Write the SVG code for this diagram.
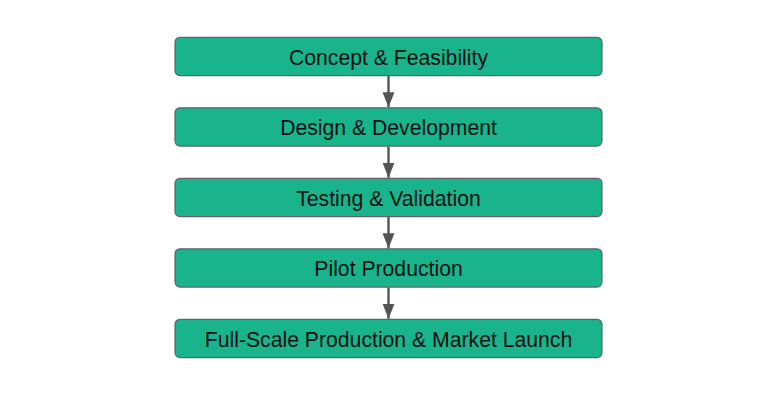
<svg xmlns="http://www.w3.org/2000/svg" width="768" height="401" viewBox="0 0 768 401">
<defs>
<style>
.box{fill:#19b48c;stroke:#5f6368;stroke-width:1.2}
.lbl{font-family:"Liberation Sans",Arial,sans-serif;font-size:21.2px;fill:#111;text-anchor:middle;dominant-baseline:central}
.edge{stroke:#555;stroke-width:2.4;fill:none}
</style>
<marker id="ah" markerWidth="15" markerHeight="12" refX="15" refY="6" orient="auto" markerUnits="userSpaceOnUse">
<path d="M0,0 L15,6 L0,12 Z" fill="#555"/>
</marker>
</defs>
<rect width="768" height="401" fill="#fff"/>
<g id="connectors">
<line class="edge" x1="388.5" y1="76" x2="388.5" y2="107.3" marker-end="url(#ah)"/>
<line class="edge" x1="388.5" y1="146.5" x2="388.5" y2="177.8" marker-end="url(#ah)"/>
<line class="edge" x1="388.5" y1="217" x2="388.5" y2="248.3" marker-end="url(#ah)"/>
<line class="edge" x1="388.5" y1="287.5" x2="388.5" y2="318.8" marker-end="url(#ah)"/>
</g>
<g id="n1"><rect class="box" x="175" y="37.3" width="427" height="38.3" rx="5"/><text class="lbl" x="388.5" y="57">Concept &amp; Feasibility</text></g>
<g id="n2"><rect class="box" x="175" y="107.8" width="427" height="38.3" rx="5"/><text class="lbl" x="388.5" y="127.5">Design &amp; Development</text></g>
<g id="n3"><rect class="box" x="175" y="178.3" width="427" height="38.3" rx="5"/><text class="lbl" x="388.5" y="198">Testing &amp; Validation</text></g>
<g id="n4"><rect class="box" x="175" y="248.8" width="427" height="38.3" rx="5"/><text class="lbl" x="388.5" y="268.5">Pilot Production</text></g>
<g id="n5"><rect class="box" x="175" y="319.3" width="427" height="38.3" rx="5"/><text class="lbl" x="388.5" y="339">Full-Scale Production &amp; Market Launch</text></g>
</svg>
